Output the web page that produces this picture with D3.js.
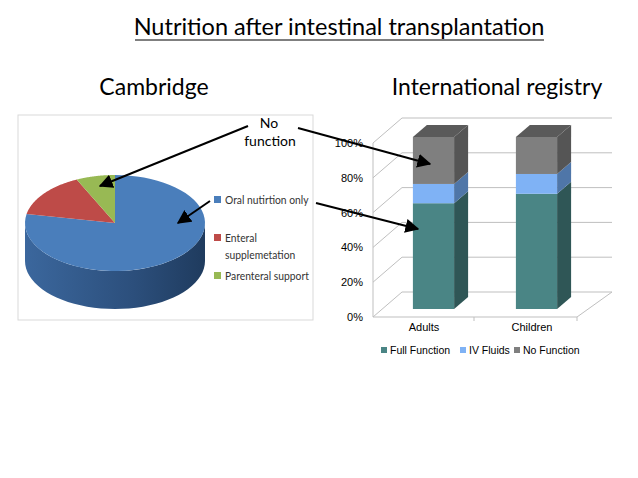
<!DOCTYPE html>
<html><head><meta charset="utf-8">
<script src="https://cdn.jsdelivr.net/npm/d3@7"></script>
<style>body{margin:0;background:#fff}text{font-family:Lato,"Open Sans",sans-serif}text.ar{font-family:"Liberation Sans",Arial,sans-serif}</style>
</head><body>
<svg id="c" width="638" height="478"></svg>
<script>
const pieLabels = ["Oral nutirtion only", "Enteral supplemetation", "Parenteral support"];
const pieValues = [78, 15, 7];
const pieColors = ["#4a7ebb", "#be4b48", "#98b954"];
const groups = ["Adults", "Children"];
const seriesNames = ["Full Function", "IV Fluids", "No Function"];
const fullFunction = [61.5, 67];
const ivFluids = [11.2, 11.5];
const noFunction = [27.3, 21.5];
const yTicks = [0, 20, 40, 60, 80, 100];
const barColors = ["#4a8585", "#7fb2f5", "#7f7f7f"];
const sideColors = ["#2f5656", "#4f76a8", "#555555"];
const topColors = ["#3d6b6b", "#6a97d0", "#5a5a5a"];

const svg = d3.select("#c");
const defs = svg.append("defs");
defs.append("marker").attr("id", "ah").attr("viewBox", "0 0 10 10").attr("refX", 9).attr("refY", 5)
  .attr("markerWidth", 7).attr("markerHeight", 7).attr("orient", "auto")
  .append("path").attr("d", "M0,0L10,5L0,10z").attr("fill", "#000");

// title
svg.append("text").attr("x", 339).attr("y", 35).attr("text-anchor", "middle")
  .attr("font-size", 23.5).text("Nutrition after intestinal transplantation ");
svg.append("line").attr("x1", 135).attr("x2", 544).attr("y1", 40).attr("y2", 40).attr("stroke", "#000").attr("stroke-width", 1.2);
svg.append("text").attr("x", 154).attr("y", 95).attr("text-anchor", "middle").attr("font-size", 23).text("Cambridge");
svg.append("text").attr("x", 497).attr("y", 95).attr("text-anchor", "middle").attr("font-size", 23).text("International registry");

// ---- pie ----
svg.append("rect").attr("x", 18).attr("y", 115).attr("width", 295).attr("height", 205)
  .attr("fill", "#fff").attr("stroke", "#d9d9d9");
const cx = 115, cy = 223, rx = 90, ry = 48, depth = 38;
const pt = a => [cx + rx * Math.sin(a), cy - ry * Math.cos(a)];
const arcs = d3.pie().sort(null)(pieValues);
const grad = defs.append("linearGradient").attr("id", "side").attr("x1", 0).attr("x2", 1);
grad.append("stop").attr("offset", 0).attr("stop-color", "#3b679d");
grad.append("stop").attr("offset", 0.6).attr("stop-color", "#2c4f7c");
grad.append("stop").attr("offset", 1).attr("stop-color", "#1f3b5e");
arcs.forEach((d, i) => {
  const a0 = Math.max(d.startAngle, Math.PI / 2), a1 = Math.min(d.endAngle, 3 * Math.PI / 2);
  if (a1 <= a0) return;
  const n = 40, top = [], bot = [];
  for (let k = 0; k <= n; k++) { const p = pt(a0 + (a1 - a0) * k / n); top.push(p); bot.push([p[0], p[1] + depth]); }
  svg.append("path").attr("d", d3.line()(top.concat(bot.reverse())) + "Z")
    .attr("fill", i === 0 ? "url(#side)" : pieColors[i]);
});
arcs.forEach((d, i) => {
  const n = 60, pts = [[cx, cy]];
  for (let k = 0; k <= n; k++) pts.push(pt(d.startAngle + (d.endAngle - d.startAngle) * k / n));
  svg.append("path").attr("d", d3.line()(pts) + "Z").attr("fill", pieColors[i]);
});
const legY = [204, 242, 280];
pieLabels.forEach((l, i) => {
  svg.append("rect").attr("x", 214).attr("y", legY[i] - 8).attr("width", 7).attr("height", 7).attr("fill", pieColors[i]);
  const t = svg.append("text").attr("x", 225).attr("y", legY[i]).attr("font-size", 12)
    .attr("textLength", null).attr("fill", "#333").style("font-stretch", "condensed");
  if (i === 1) {
    t.append("tspan").text("Enteral");
    t.append("tspan").attr("x", 225).attr("dy", 17).text("supplemetation");
  } else t.text(l);
});
svg.selectAll("text").filter(function () { return this.getAttribute("x") === "225"; })
  .attr("transform", "translate(225,0) scale(0.86,1) translate(-225,0)");

// ---- bars ----
const y = d3.scaleLinear().domain([0, 100]).range([317, 143]);
const ddx = 29, ddy = -25;
const wall = svg.append("g").attr("stroke", "#bfbfbf").attr("fill", "none");
yTicks.forEach(v => {
  wall.append("polyline").attr("points", `373,${y(v)} ${373 + ddx},${y(v) + ddy} 612,${y(v) + ddy}`);
  svg.append("text").attr("class", "ar").attr("x", 363).attr("y", y(v) + 4).attr("text-anchor", "end").attr("font-size", 11)
    .text(v + "%");
});
wall.append("line").attr("x1", 373).attr("x2", 373).attr("y1", y(0)).attr("y2", y(100));
wall.append("line").attr("x1", 373).attr("x2", 577).attr("y1", y(0)).attr("y2", y(0));
wall.append("line").attr("x1", 577).attr("x2", 612).attr("y1", y(0)).attr("y2", y(0) + ddy);
[474, 577].forEach(x => wall.append("line").attr("x1", x).attr("x2", x).attr("y1", y(0)).attr("y2", y(0) + 4));

const x = d3.scaleBand().domain(groups).range([382, 588]).paddingInner(0.6).paddingOuter(0.3);
const yb = d3.scaleLinear().domain([0, 100]).range([309, 137]);
const stack = d3.stack().keys(seriesNames)(groups.map((g, i) => ({
  "Full Function": fullFunction[i], "IV Fluids": ivFluids[i], "No Function": noFunction[i]
})));
const bw = x.bandwidth(), sx = 14, sy = -12;
stack.forEach((s, si) => {
  s.forEach((d, gi) => {
    const x0 = x(groups[gi]), y0 = yb(d[0]), y1 = yb(d[1]);
    svg.append("rect").attr("x", x0).attr("y", y1).attr("width", bw).attr("height", y0 - y1).attr("fill", barColors[si]);
    svg.append("path").attr("d", `M${x0 + bw},${y0}L${x0 + bw + sx},${y0 + sy}L${x0 + bw + sx},${y1 + sy}L${x0 + bw},${y1}Z`)
      .attr("fill", sideColors[si]);
    if (si === 2) svg.append("path").attr("d", `M${x0},${y1}L${x0 + sx},${y1 + sy}L${x0 + bw + sx},${y1 + sy}L${x0 + bw},${y1}Z`)
      .attr("fill", topColors[si]);
  });
});
const labX = [424, 532];
groups.forEach((g, i) => svg.append("text").attr("class", "ar").attr("x", labX[i]).attr("y", 331).attr("text-anchor", "middle")
  .attr("font-size", 11).text(g));
const legX = [381, 460, 514];
seriesNames.forEach((n, i) => {
  svg.append("rect").attr("x", legX[i]).attr("y", 347).attr("width", 6).attr("height", 6).attr("fill", barColors[i]);
  svg.append("text").attr("class", "ar").attr("x", legX[i] + 9).attr("y", 354).attr("font-size", 10.5).text(n);
});

// ---- annotations ----
svg.append("text").attr("x", 269).attr("y", 128).attr("text-anchor", "middle").attr("font-size", 14).text("No");
svg.append("text").attr("x", 270).attr("y", 146).attr("text-anchor", "middle").attr("font-size", 14).text("function");
const arrows = [[248, 126, 100, 186], [298, 128, 430, 164], [210, 201, 178, 223], [316, 203, 418, 229]];
arrows.forEach(a => svg.append("line").attr("x1", a[0]).attr("y1", a[1]).attr("x2", a[2]).attr("y2", a[3])
  .attr("stroke", "#000").attr("stroke-width", 2).attr("marker-end", "url(#ah)"));
</script>
</body></html>
